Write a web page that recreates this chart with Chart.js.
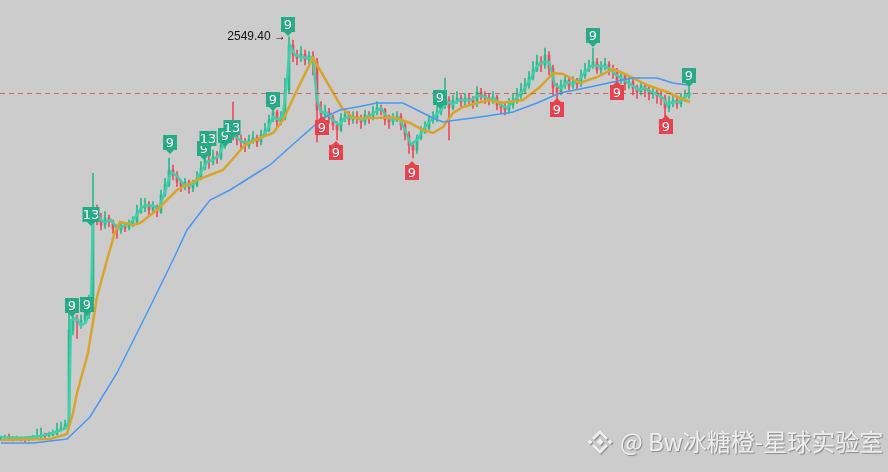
<!DOCTYPE html>
<html>
<head>
<meta charset="utf-8">
<script src="https://cdn.jsdelivr.net/npm/chart.js@4.4.1/dist/chart.umd.min.js"></script>
<style>
  html, body { margin: 0; padding: 0; background: #cccccc; }
  #wrap { width: 888px; height: 472px; position: relative; }
</style>
</head>
<body>
<div id="wrap"><canvas id="c"></canvas></div>
<script>
// candles, one per bar index
const firstOpen = 136;
const closes = [
  142,148,142,136,142,136,130,136,142,148, 160,154,160,166,190,202,220,790,862,838,
  850,880,970,1480,1450,1420,1462,1438,1402,1390, 1414,1402,1426,1438,1498,1522,1540,1510,1528,1498,
  1600,1660,1750,1720,1678,1654,1678,1642,1660,1702, 1762,1810,1798,1828,1822,1900,1930,1978,1954,1930,
  1918,1894,1930,1942,1918,1960,1990,2050,2098,2038, 2062,2230,2500,2440,2422,2446,2410,2434,2398,2110,
  2080,2098,2062,2020,1990,2062,2080,2050,2074,2062, 2038,2080,2062,2098,2122,2110,2050,2038,2062,2074,
  2020,1960,1900,1870,1942,1978,2002,2050,2062,2098, 2140,2170,2122,2170,2182,2158,2182,2170,2146,2218,
  2200,2182,2170,2188,2140,2122,2110,2140,2170,2200, 2230,2260,2302,2350,2398,2380,2440,2362,2242,2218,
  2260,2290,2254,2278,2266,2314,2350,2374,2398,2350, 2374,2386,2350,2338,2290,2314,2266,2278,2242,2218,
  2254,2230,2206,2218,2194,2182,2122,2158,2170,2146, 2182,2194,2212
];
const highs = [
  154,160,166,150,154,148,146,148,158,196, 202,172,178,190,232,238,250,930,900,880,
  880,910,1000,1730,1540,1490,1500,1480,1450,1420, 1440,1430,1450,1470,1540,1580,1580,1560,1560,1540,
  1630,1700,1822,1780,1740,1690,1700,1690,1690,1740, 1800,1850,1840,1870,1860,1930,1970,2010,2158,1990,
  1960,1940,1960,1980,1960,1990,2030,2080,2130,2110, 2100,2300,2549.4,2530,2470,2490,2470,2460,2460,2420,
  2160,2140,2120,2080,2040,2090,2110,2100,2100,2100, 2080,2110,2100,2130,2160,2140,2120,2080,2090,2100,
  2090,2040,1980,1920,1960,2010,2040,2080,2100,2130, 2180,2302,2190,2200,2220,2200,2210,2210,2190,2250,
  2240,2220,2210,2220,2200,2160,2150,2180,2210,2240, 2270,2300,2340,2400,2440,2430,2482,2460,2380,2270,
  2290,2320,2310,2310,2300,2350,2390,2410,2482,2420, 2400,2420,2400,2380,2360,2340,2330,2310,2300,2260,
  2280,2270,2250,2250,2240,2220,2200,2190,2200,2190, 2210,2230,2250
];
const lows = [
  128,136,136,124,130,124,118,124,130,136, 142,142,148,154,160,184,196,214,760,740,
  800,830,860,950,1420,1390,1400,1410,1370,1340, 1370,1380,1390,1410,1430,1490,1500,1480,1490,1470,
  1490,1590,1650,1690,1650,1620,1630,1610,1620,1650, 1690,1750,1760,1780,1790,1810,1880,1920,1930,1900,
  1880,1860,1880,1910,1890,1900,1950,1980,2040,2010, 2020,2050,2210,2400,2380,2400,2380,2390,2320,1918,
  2040,2060,2030,1990,1930,1980,2040,2020,2030,2030, 2000,2020,2030,2050,2080,2080,2020,2000,2020,2040,
  1990,1930,1850,1822,1850,1930,1970,1990,2030,2040, 2080,2120,1930,2110,2150,2130,2140,2140,2120,2130,
  2170,2150,2140,2150,2110,2090,2080,2090,2120,2150, 2180,2210,2240,2290,2340,2340,2360,2320,2200,2150,
  2200,2240,2230,2240,2240,2250,2300,2340,2360,2330, 2330,2350,2320,2300,2260,2270,2230,2240,2200,2180,
  2200,2190,2170,2180,2150,2140,2068,2100,2130,2120, 2130,2160,2180
];

// moving average lines (x in bar index units)
const fastX = [0,5,10,13.75,16.25,17,17.5,18.75,20,21.25,22,22.5,23,24,25,26,27.5,29,30.5,32,33.5,35,36.5,38,39.5,41,42.5,44,45.5,47,48.5,50,51.5,53,54.5,56,57.5,59,60.5,62,63.5,65,66.5,68,69.5,70.5,71.5,72.25,73.5,75,76.5,78,79,80,81.5,83,84.5,86,87.5,89,90.5,92,93.5,95,96.5,98,99.5,101,102.5,104,105.5,107,108.5,110,111.5,113,114.5,116,117.5,119,120.5,122,123.5,125,126.5,128,129.5,131,132.5,134,135.5,137,138.5,140,141.5,143,144.5,146,147.5,149,150.5,152,153.5,155,156.5,158,159.5,161,162.5,164,165.5,166.5,168,169.5,171,172.5];
const fastMA = [148,142,154,178,202,250,850,862,814,838,898,970,1480,1498,1450,1438,1450,1402,1414,1426,1462,1522,1540,1534,1522,1618,1738,1714,1666,1654,1672,1738,1798,1810,1840,1918,1960,1942,1918,1918,1930,1942,1990,2068,2050,2080,2290,2500,2440,2428,2422,2422,2170,2098,2092,2050,2020,2062,2068,2062,2050,2074,2098,2122,2068,2050,2062,1990,1900,1930,1990,2038,2074,2110,2158,2146,2170,2170,2170,2194,2194,2176,2176,2140,2122,2158,2200,2242,2302,2374,2398,2398,2260,2242,2278,2266,2290,2338,2374,2374,2374,2362,2326,2302,2278,2254,2230,2242,2218,2206,2182,2140,2158,2158,2188,2212];
const midX = [0,12.25,16.5,18,19,21.75,24,26.5,28.5,29.75,33,34.75,39,44,49,55.5,61,64.75,68,70.5,74,78,85.25,88,94,98,102.25,105.5,108,110.5,113,115.5,119,122.25,124.75,130.5,134.75,138,140.5,144.75,149,153,156.5,161.5,166.5,169.75,172.25];
const midMA = [130,136,166,292,412,652,988,1210,1378,1438,1420,1432,1510,1630,1690,1750,1900,1942,1972,2050,2230,2422,2122,2062,2062,2068,2032,1990,1972,2008,2092,2128,2152,2170,2152,2170,2248,2332,2326,2272,2308,2356,2320,2260,2218,2182,2158];
const slowX = [0,8,16.5,22.25,29,37.25,43,46.5,49.75,52.25,57.25,64,67.25,69.75,72.25,80.5,84.75,89,94,100.5,104,108,110.5,114,119.75,128,134,139.75,147.25,153,158,164,168,171.5];
const slowMA = [112,112,136,268,532,928,1210,1390,1492,1570,1630,1732,1780,1834,1888,2062,2110,2128,2152,2152,2110,2062,2038,2050,2068,2098,2152,2212,2248,2278,2302,2302,2272,2260];

// sequential count markers
const tdX     = [17.75,21.5,22.5,42.25,50.75,51.75,56,57.75,68,71.75,109.75,148,172, 80.25,83.75,102.75,139,154,166.25];
const tdPrice = [868,874,1414,1846,1810,1870,1888,1936,2104,2554,2116,2488,2248, 2074,1924,1804,2182,2284,2080];
const tdText  = ['9','9','13','9','9','13','9','13','9','9','9','9','9', '9','9','9','9','9','9'];
const tdSide  = ['up','up','up','up','up','up','up','up','up','up','up','up','up', 'down','down','down','down','down','down'];

const GREEN = '#2bb88f';
const RED = '#ee4a5b';
const BOX_GREEN = '#27ab86';
const BOX_RED = '#e8424f';

const opens = [firstOpen].concat(closes.slice(0, -1));
const bodies = closes.map((c, i) => ({ x: i, y: [opens[i], c] }));
const wicks = closes.map((c, i) => ({ x: i, y: [lows[i], highs[i]] }));
const candleColors = closes.map((c, i) => c >= opens[i] ? GREEN : RED);
const toPts = (xs, ys) => xs.map((x, i) => ({ x: x, y: ys[i] }));

const overlay = {
  id: 'overlay',
  afterDatasetsDraw(chart) {
    const ctx = chart.ctx;
    const xs = chart.scales.x, ys = chart.scales.y;

    // last price dashed line
    const lastY = ys.getPixelForValue(closes[closes.length - 1]);
    ctx.save();
    ctx.strokeStyle = 'rgba(196,80,80,0.8)';
    ctx.lineWidth = 1;
    ctx.setLineDash([5, 4]);
    ctx.beginPath();
    ctx.moveTo(0, Math.round(lastY) + 0.5);
    ctx.lineTo(chart.width, Math.round(lastY) + 0.5);
    ctx.stroke();
    ctx.restore();

    // highest price label
    const maxH = Math.max.apply(null, highs);
    const mi = highs.indexOf(maxH);
    ctx.save();
    ctx.fillStyle = '#111';
    ctx.font = '12px "Liberation Sans", Arial, sans-serif';
    ctx.textAlign = 'right';
    ctx.textBaseline = 'middle';
    ctx.fillText(maxH.toFixed(2) + ' \u2192', xs.getPixelForValue(mi) - 3, ys.getPixelForValue(maxH));
    ctx.restore();

    // count markers
    ctx.save();
    ctx.font = '13px "DejaVu Sans", sans-serif';
    ctx.textAlign = 'center';
    ctx.textBaseline = 'middle';
    tdX.forEach((v, i) => {
      const px = xs.getPixelForValue(v);
      const py = ys.getPixelForValue(tdPrice[i]);
      const up = tdSide[i] === 'up';
      const w = tdText[i].length > 1 ? 17 : 14;
      const h = 15;
      const top = up ? py - 4 - h : py + 4;
      ctx.fillStyle = up ? BOX_GREEN : BOX_RED;
      ctx.beginPath();
      ctx.rect(px - w / 2, top, w, h);
      ctx.fill();
      ctx.beginPath();
      if (up) {
        ctx.moveTo(px - 4, py - 4); ctx.lineTo(px + 4, py - 4); ctx.lineTo(px, py);
      } else {
        ctx.moveTo(px - 4, py + 4); ctx.lineTo(px + 4, py + 4); ctx.lineTo(px, py);
      }
      ctx.fill();
      ctx.fillStyle = '#ffffff';
      ctx.fillText(tdText[i], px, top + h / 2 + 1);
    });
    ctx.restore();
  },
  afterDraw(chart) {
    const ctx = chart.ctx;
    ctx.save();
    ctx.shadowColor = 'rgba(90,90,90,0.6)';
    ctx.shadowOffsetX = 1;
    ctx.shadowOffsetY = 1;
    ctx.shadowBlur = 1;
    ctx.fillStyle = '#eeeeee';
    ctx.strokeStyle = '#eeeeee';
    // exchange logo
    const cx = 600, cy = 442;
    const dia = (x, y, r) => {
      ctx.beginPath();
      ctx.moveTo(x, y - r); ctx.lineTo(x + r, y); ctx.lineTo(x, y + r); ctx.lineTo(x - r, y);
      ctx.closePath(); ctx.fill();
    };
    dia(cx, cy, 3.5);
    dia(cx - 10, cy, 2.6);
    dia(cx + 10, cy, 2.6);
    ctx.lineWidth = 2.8;
    ctx.beginPath();
    ctx.moveTo(cx - 7, cy - 3); ctx.lineTo(cx, cy - 10); ctx.lineTo(cx + 7, cy - 3);
    ctx.moveTo(cx - 7, cy + 3); ctx.lineTo(cx, cy + 10); ctx.lineTo(cx + 7, cy + 3);
    ctx.stroke();
    // watermark text
    ctx.font = '24px "Noto Sans CJK SC", "Noto Sans", sans-serif';
    ctx.textAlign = 'left';
    ctx.textBaseline = 'middle';
    ctx.fillText('@ Bw冰糖橙-星球实验室', 620, 442);
    ctx.restore();
  }
};

new Chart(document.getElementById('c'), {
  type: 'bar',
  data: {
    datasets: [
      { type: 'line', data: toPts(slowX, slowMA), borderColor: '#4698f2', borderWidth: 1.5, pointRadius: 0, tension: 0, order: 1 },
      { type: 'line', data: toPts(midX, midMA), borderColor: '#d8a52a', borderWidth: 2.5, pointRadius: 0, tension: 0, order: 2 },
      { type: 'line', data: toPts(fastX, fastMA), borderColor: '#3fd0aa', borderWidth: 2.5, pointRadius: 0, tension: 0, order: 3 },
      { data: bodies, backgroundColor: candleColors, barThickness: 2, minBarLength: 1, grouped: false, order: 4 },
      { data: wicks, backgroundColor: candleColors, barThickness: 1, grouped: false, order: 5 }
    ]
  },
  options: {
    responsive: true,
    maintainAspectRatio: false,
    animation: false,
    layout: { padding: 0 },
    plugins: { legend: { display: false }, tooltip: { enabled: false } },
    scales: {
      x: { type: 'linear', min: -0.25, max: 221.75, offset: false, display: false },
      y: { min: -62, max: 2770, display: false }
    }
  },
  plugins: [overlay]
});
</script>
</body>
</html>
